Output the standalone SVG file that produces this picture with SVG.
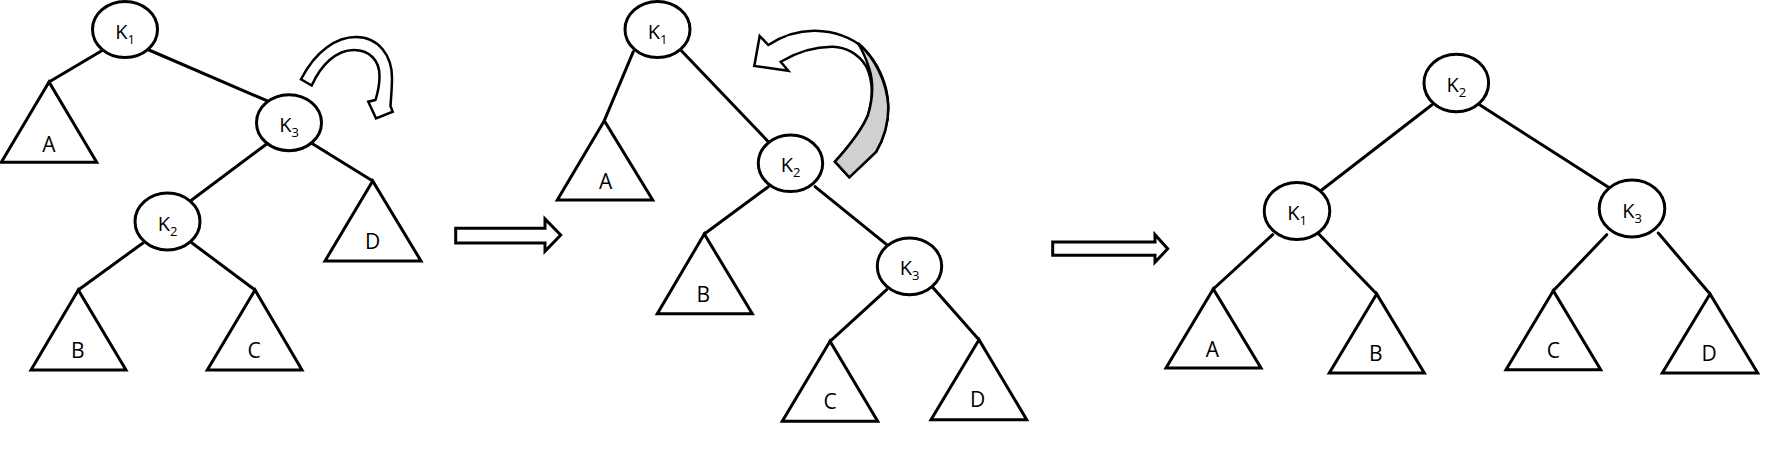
<svg xmlns="http://www.w3.org/2000/svg" width="1770" height="466" viewBox="0 0 1770 466">
<style>
.e{fill:#fff;stroke:#000;stroke-width:3}
.t{fill:#fff;stroke:#000;stroke-width:3;stroke-linejoin:miter}
.c line{stroke:#000;stroke-width:3;stroke-linecap:round}
.k{font-family:"Open Sans","Noto Sans",sans-serif;font-size:20px;fill:#000;text-anchor:middle}
.s{font-size:13px}
.l{font-family:"Open Sans","Noto Sans",sans-serif;font-size:21px;fill:#000;text-anchor:middle}
.ba{fill:#fff;stroke:#000;stroke-width:3;stroke-linejoin:miter}
</style>
<rect width="1770" height="466" fill="#fff"/>

<g id="connectors" class="c">
<line x1="101.7" y1="50.7" x2="49" y2="82"/>
<line x1="149" y1="50" x2="266.7" y2="100.7"/>
<line x1="266.7" y1="144" x2="191.7" y2="200"/>
<line x1="311.7" y1="143.3" x2="372.7" y2="181"/>
<line x1="143.3" y1="242.7" x2="78.3" y2="290"/>
<line x1="191.7" y1="242.7" x2="255" y2="290"/>

<line x1="633.3" y1="51.7" x2="604.3" y2="120.7"/>
<line x1="680.7" y1="50" x2="768.3" y2="141.7"/>
<line x1="768.3" y1="186.7" x2="704.3" y2="234"/>
<line x1="815" y1="186.7" x2="886.7" y2="244.7"/>
<line x1="886.7" y1="289.7" x2="830" y2="341.3"/>
<line x1="933.3" y1="288" x2="979" y2="339.7"/>

<line x1="1431.7" y1="105" x2="1321.7" y2="190"/>
<line x1="1480" y1="105" x2="1610" y2="188.3"/>
<line x1="1272.7" y1="234.7" x2="1213.3" y2="289"/>
<line x1="1318.3" y1="233.5" x2="1376.7" y2="294"/>
<line x1="1606.7" y1="234.7" x2="1553.3" y2="290.7"/>
<line x1="1658.3" y1="233" x2="1710" y2="294"/>
</g>

<!-- Tree 1 -->
<g id="t1-K1"><ellipse class="e" cx="125" cy="29.5" rx="32.5" ry="28"/><text class="k" x="125" y="38.5">K<tspan class="s" dy="5">1</tspan></text></g>
<g id="t1-K3"><ellipse class="e" cx="289" cy="122.7" rx="32.5" ry="28"/><text class="k" x="289" y="131.7">K<tspan class="s" dy="5">3</tspan></text></g>
<g id="t1-K2"><ellipse class="e" cx="167.5" cy="221.5" rx="32.5" ry="28.5"/><text class="k" x="167.5" y="230.5">K<tspan class="s" dy="5">2</tspan></text></g>
<g id="t1-A"><polygon class="t" points="49,82 1.3,162.3 96.7,162.3"/><text class="l" x="49" y="151.5">A</text></g>
<g id="t1-D"><polygon class="t" points="372.7,181 325,261 421,261"/><text class="l" x="372.7" y="249">D</text></g>
<g id="t1-B"><polygon class="t" points="78.3,290 31,370 126,370"/><text class="l" x="77.7" y="357.5">B</text></g>
<g id="t1-C"><polygon class="t" points="255,290 207.3,370 302,370"/><text class="l" x="254" y="357.5">C</text></g>
<g id="t1-rot">
<path fill="#fff" stroke="#000" stroke-width="2.5" stroke-linejoin="miter" d="M301,79.3 C316,50 337,37 356,37 C379,37 392,56 392,78 C392,88 391,98 390.5,106 L392.7,111.7 L376,118.3 L368.3,101.7 L375.5,100 C378,92 379.5,84 379.5,76 C379.5,60 369,50 354,50 C336,50 321,65 311.7,85.5 Z"/>
</g>

<!-- Arrow 1 -->
<g id="arrow1"><path class="ba" d="M455.7,228.3 H545 V219 L560.7,235 L545,251.3 V243 H455.7 Z"/></g>

<!-- Tree 2 -->
<g id="t2-K1"><ellipse class="e" cx="657.5" cy="29.5" rx="32.5" ry="28"/><text class="k" x="657.5" y="38.5">K<tspan class="s" dy="5">1</tspan></text></g>
<g id="t2-K2"><ellipse class="e" cx="790.5" cy="163.3" rx="32.2" ry="28.3"/><text class="k" x="790.5" y="172.3">K<tspan class="s" dy="5">2</tspan></text></g>
<g id="t2-K3"><ellipse class="e" cx="909.5" cy="266.3" rx="32.2" ry="28.4"/><text class="k" x="909.5" y="275.3">K<tspan class="s" dy="5">3</tspan></text></g>
<g id="t2-A"><polygon class="t" points="604.3,120.7 557.3,200 652.7,200"/><text class="l" x="605.7" y="189">A</text></g>
<g id="t2-B"><polygon class="t" points="704.3,234 657.3,313.7 752.3,313.7"/><text class="l" x="703.3" y="302">B</text></g>
<g id="t2-C"><polygon class="t" points="830,341.3 782.3,421.3 877.7,421.3"/><text class="l" x="830" y="408.8">C</text></g>
<g id="t2-D"><polygon class="t" points="979,339.7 931,419.7 1026.7,419.7"/><text class="l" x="977.7" y="407.2">D</text></g>
<g id="t2-rot">
<path fill="#fff" stroke="#000" stroke-width="2.5" stroke-linejoin="miter" d="M759.7,36 L768.3,45 C785,34 800,30.5 815,30.7 C835,31 852,38 862,47 C878,62 888,85 888.3,106.7 C888.5,125 883,140 876,152 L849.3,177.3 L835,161.7 C850,145 862,130 868,115 C874,95 873,80 866,66 C858,53 845,47 833,46.7 C815,46.5 797,52 780.7,61.7 L788.3,70.7 L754.3,66 Z"/>
<path fill="#d0d0d0" stroke="#000" stroke-width="2.5" stroke-linejoin="miter" d="M858,43 C875,58 887,82 888.3,106.7 C888.5,125 883,140 876,152 L849.3,177.3 L835,161.7 C850,145 862,130 868,115 C874,95 873,80 869,68 C866,58 862,50 858,43 Z"/>
</g>

<!-- Arrow 2 -->
<g id="arrow2"><path class="ba" d="M1052.7,242 H1155 V234.7 L1167.7,248.7 L1155,262.3 V255.3 H1052.7 Z"/></g>

<!-- Tree 3 -->
<g id="t3-K2"><ellipse class="e" cx="1456.3" cy="83" rx="32.3" ry="28.7"/><text class="k" x="1456.3" y="92">K<tspan class="s" dy="5">2</tspan></text></g>
<g id="t3-K1"><ellipse class="e" cx="1297" cy="211" rx="32.8" ry="28.5"/><text class="k" x="1297" y="220">K<tspan class="s" dy="5">1</tspan></text></g>
<g id="t3-K3"><ellipse class="e" cx="1632" cy="208.5" rx="32.8" ry="28.5"/><text class="k" x="1632" y="217.5">K<tspan class="s" dy="5">3</tspan></text></g>
<g id="t3-A"><polygon class="t" points="1213.3,289 1166,368 1261,368"/><text class="l" x="1212.3" y="357.2">A</text></g>
<g id="t3-B"><polygon class="t" points="1376.7,294 1329.3,373 1424.3,373"/><text class="l" x="1375.7" y="360.5">B</text></g>
<g id="t3-C"><polygon class="t" points="1553.3,290.7 1506,369.7 1600.7,369.7"/><text class="l" x="1553.3" y="357.8">C</text></g>
<g id="t3-D"><polygon class="t" points="1710,294 1662.3,373 1757.7,373"/><text class="l" x="1709" y="360.5">D</text></g>
</svg>
